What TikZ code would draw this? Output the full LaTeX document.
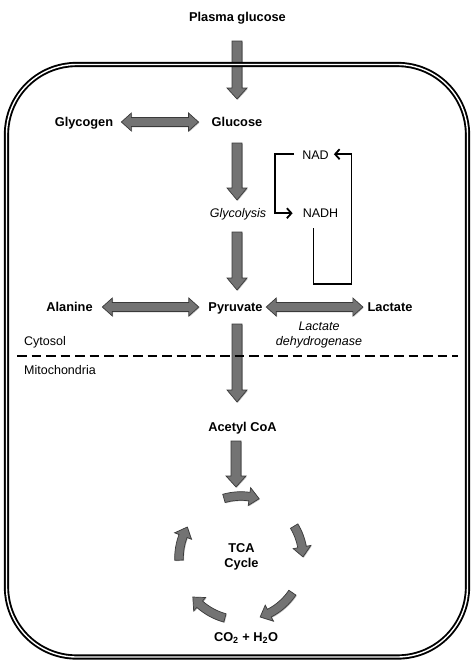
\documentclass[tikz,border=0pt]{standalone}
\usepackage{fontspec}
\setmainfont{Liberation Sans}
\usetikzlibrary{calc,arrows.meta,shadows}
\definecolor{arrfill}{HTML}{737373}
\definecolor{arrline}{HTML}{3A3A3A}
\tikzset{
  lbl/.style={inner sep=0pt, anchor=base, font=\fontsize{12.5}{15}\selectfont},
  blbl/.style={lbl, font=\fontsize{12.8}{15}\selectfont\bfseries},
  ilbl/.style={lbl, font=\fontsize{12.5}{15}\selectfont\itshape},
  fat/.style={fill=arrfill, draw=arrline, line width=0.7pt, line join=miter,
    drop shadow={shadow xshift=0.8pt, shadow yshift=-0.8pt, opacity=0.25, fill=black}},
  cellwall/.style={draw=black, double=white, line width=1.9pt, double distance=1.4pt, rounded corners=70pt},
  membrane/.style={line width=2pt, dash pattern=on 9.5pt off 5pt},
  redox/.style={line width=1.8pt, -{Straight Barb[length=4.5pt,width=10pt]}}
}
% straight fat arrow: from, to, shaft half width, head half width, head length
\newcommand\fatarrow[5]{%
  \coordinate (fahead) at ($(#2)!#5!(#1)$);
  \draw[fat] ($(#1)!#3!90:(#2)$) -- ($(fahead)!#3!-90:(#1)$) -- ($(fahead)!#4!-90:(#1)$)
    -- (#2) -- ($(fahead)!#4!90:(#1)$) -- ($(fahead)!#3!90:(#1)$) -- ($(#1)!#3!-90:(#2)$) -- cycle;}
% double fat arrow
\newcommand\fatdarrow[5]{%
  \coordinate (fdha) at ($(#1)!#5!(#2)$);
  \coordinate (fdhb) at ($(#2)!#5!(#1)$);
  \draw[fat] (#1) -- ($(fdha)!#4!90:(#2)$) -- ($(fdha)!#3!90:(#2)$) -- ($(fdhb)!#3!-90:(#1)$)
    -- ($(fdhb)!#4!-90:(#1)$) -- (#2) -- ($(fdhb)!#4!90:(#1)$) -- ($(fdhb)!#3!90:(#1)$)
    -- ($(fdha)!#3!-90:(#2)$) -- ($(fdha)!#4!-90:(#2)$) -- cycle;}
% curved cycle arrow, clockwise from angle #1 to angle #2 around (tcac)
\newcommand\cyclearrow[2]{%
  \pgfmathsetmacro\cah{#2+9.2}%
  \draw[fat] ($(tcac)+(#1:66.3)$) arc[start angle=#1, end angle=\cah, radius=66.3pt]
    -- ($(tcac)+(\cah:71)$) -- ($(tcac)+(#2:62)$) -- ($(tcac)+(\cah:53)$)
    -- ($(tcac)+(\cah:57.7)$) arc[start angle=\cah, end angle=#1, radius=57.7pt] -- cycle;}
\begin{document}
\begin{tikzpicture}[x=1pt,y=1pt]
\useasboundingbox (0,0) rectangle (474,-667);
% labels
\node[blbl] (plasma) at (237.5,-21.5) {Plasma glucose};
\node[blbl] (glucose) at (237,-126.5) {Glucose};
\node[blbl] (glycogen) at (84,-126.5) {Glycogen};
\node[ilbl] (glycolysis) at (238,-217.5) {Glycolysis};
\node[lbl] (nad) at (315.5,-159.5) {NAD};
\node[lbl] (nadh) at (320.5,-217.5) {NADH};
\node[blbl] (alanine) at (69.5,-311.5) {Alanine};
\node[blbl] (pyruvate) at (235.5,-311.5) {Pyruvate};
\node[blbl] (lactate) at (390,-311.5) {Lactate};
\node[ilbl, anchor=center, align=center] (ldh) at (319,-334.7) {Lactate\\dehydrogenase};
\node[lbl, anchor=base west] (cytosol) at (24,-345.5) {Cytosol};
\node[lbl, anchor=base west] (mito) at (24,-374.5) {Mitochondria};
\node[blbl] (acetyl) at (242.5,-431.5) {Acetyl CoA};
\node[blbl, anchor=center, align=center] (tca) at (241.5,-556.7) {TCA\\Cycle};
\node[blbl] (co2) at (246,-641.5) {CO\textsubscript{2} + H\textsubscript{2}O};
\coordinate (tcac) at (241,-558);
% arrow end points
\coordinate (a1s) at ($(plasma.base)+(-0.5,-19.5)$);
\coordinate (a1e) at ($(glucose.base)+(0,27.5)$);
\coordinate (a2s) at ($(glycogen.base east)+(8,4.5)$);
\coordinate (a2e) at ($(glucose.base west)+(-13,4.5)$);
\coordinate (a3s) at ($(glucose.base)+(0,-16.5)$);
\coordinate (a3e) at ($(glycolysis.base)+(-1,17.5)$);
\coordinate (a4s) at ($(glycolysis.base)+(-1,-14.5)$);
\coordinate (a4e) at ($(pyruvate.base)+(1.5,21.5)$);
\coordinate (a5s) at ($(alanine.base east)+(9.5,4.5)$);
\coordinate (a5e) at ($(pyruvate.base west)+(-9.5,4.5)$);
\coordinate (a6s) at ($(pyruvate.base east)+(3.5,4.5)$);
\coordinate (a6e) at ($(lactate.base west)+(-4.5,4.5)$);
\coordinate (a7s) at ($(pyruvate.base)+(1.5,-12.5)$);
\coordinate (a7e) at ($(acetyl.base)+(-5.5,29.5)$);
\coordinate (a8s) at ($(acetyl.base)+(-6.5,-9.5)$);
\coordinate (a8e) at ($(tcac)+(-5,71)$);
% fat arrows
\fatarrow{a1s}{a1e}{5pt}{10pt}{11pt}
\fatdarrow{a2s}{a2e}{4.5pt}{9pt}{10pt}
\fatarrow{a3s}{a3e}{5pt}{10pt}{12pt}
\fatarrow{a4s}{a4e}{5pt}{10pt}{12pt}
\fatdarrow{a5s}{a5e}{4.5pt}{9pt}{10pt}
\fatdarrow{a6s}{a6e}{4.5pt}{9pt}{10pt}
\fatarrow{a7s}{a7e}{5pt}{10pt}{12pt}
\fatarrow{a8s}{a8e}{5pt}{10pt}{11pt}
% TCA cycle
\cyclearrow{106}{73}
\cyclearrow{31}{1}
\cyclearrow{-34}{-72}
\cyclearrow{-105}{-141}
\cyclearrow{182}{150}
% NAD / NADH
\draw[redox] ($(nad.west)+(-8,1)$) -- ++(-19,0) |- ($(nadh.west)+(-10,0)$);
\draw[redox] ($(nadh.south west)+(11,-10.5)$) |- ++(38,-56) |- ($(nad.east)+(5,1)$);
% cell wall and membrane
\draw[cellwall] (6.5,-64.5) rectangle (467.5,-657);
\coordinate (dl) at (17,-356);
\coordinate (dr) at (458,-356);
\draw[membrane] (dl) -- (dr);
\end{tikzpicture}
\end{document}
